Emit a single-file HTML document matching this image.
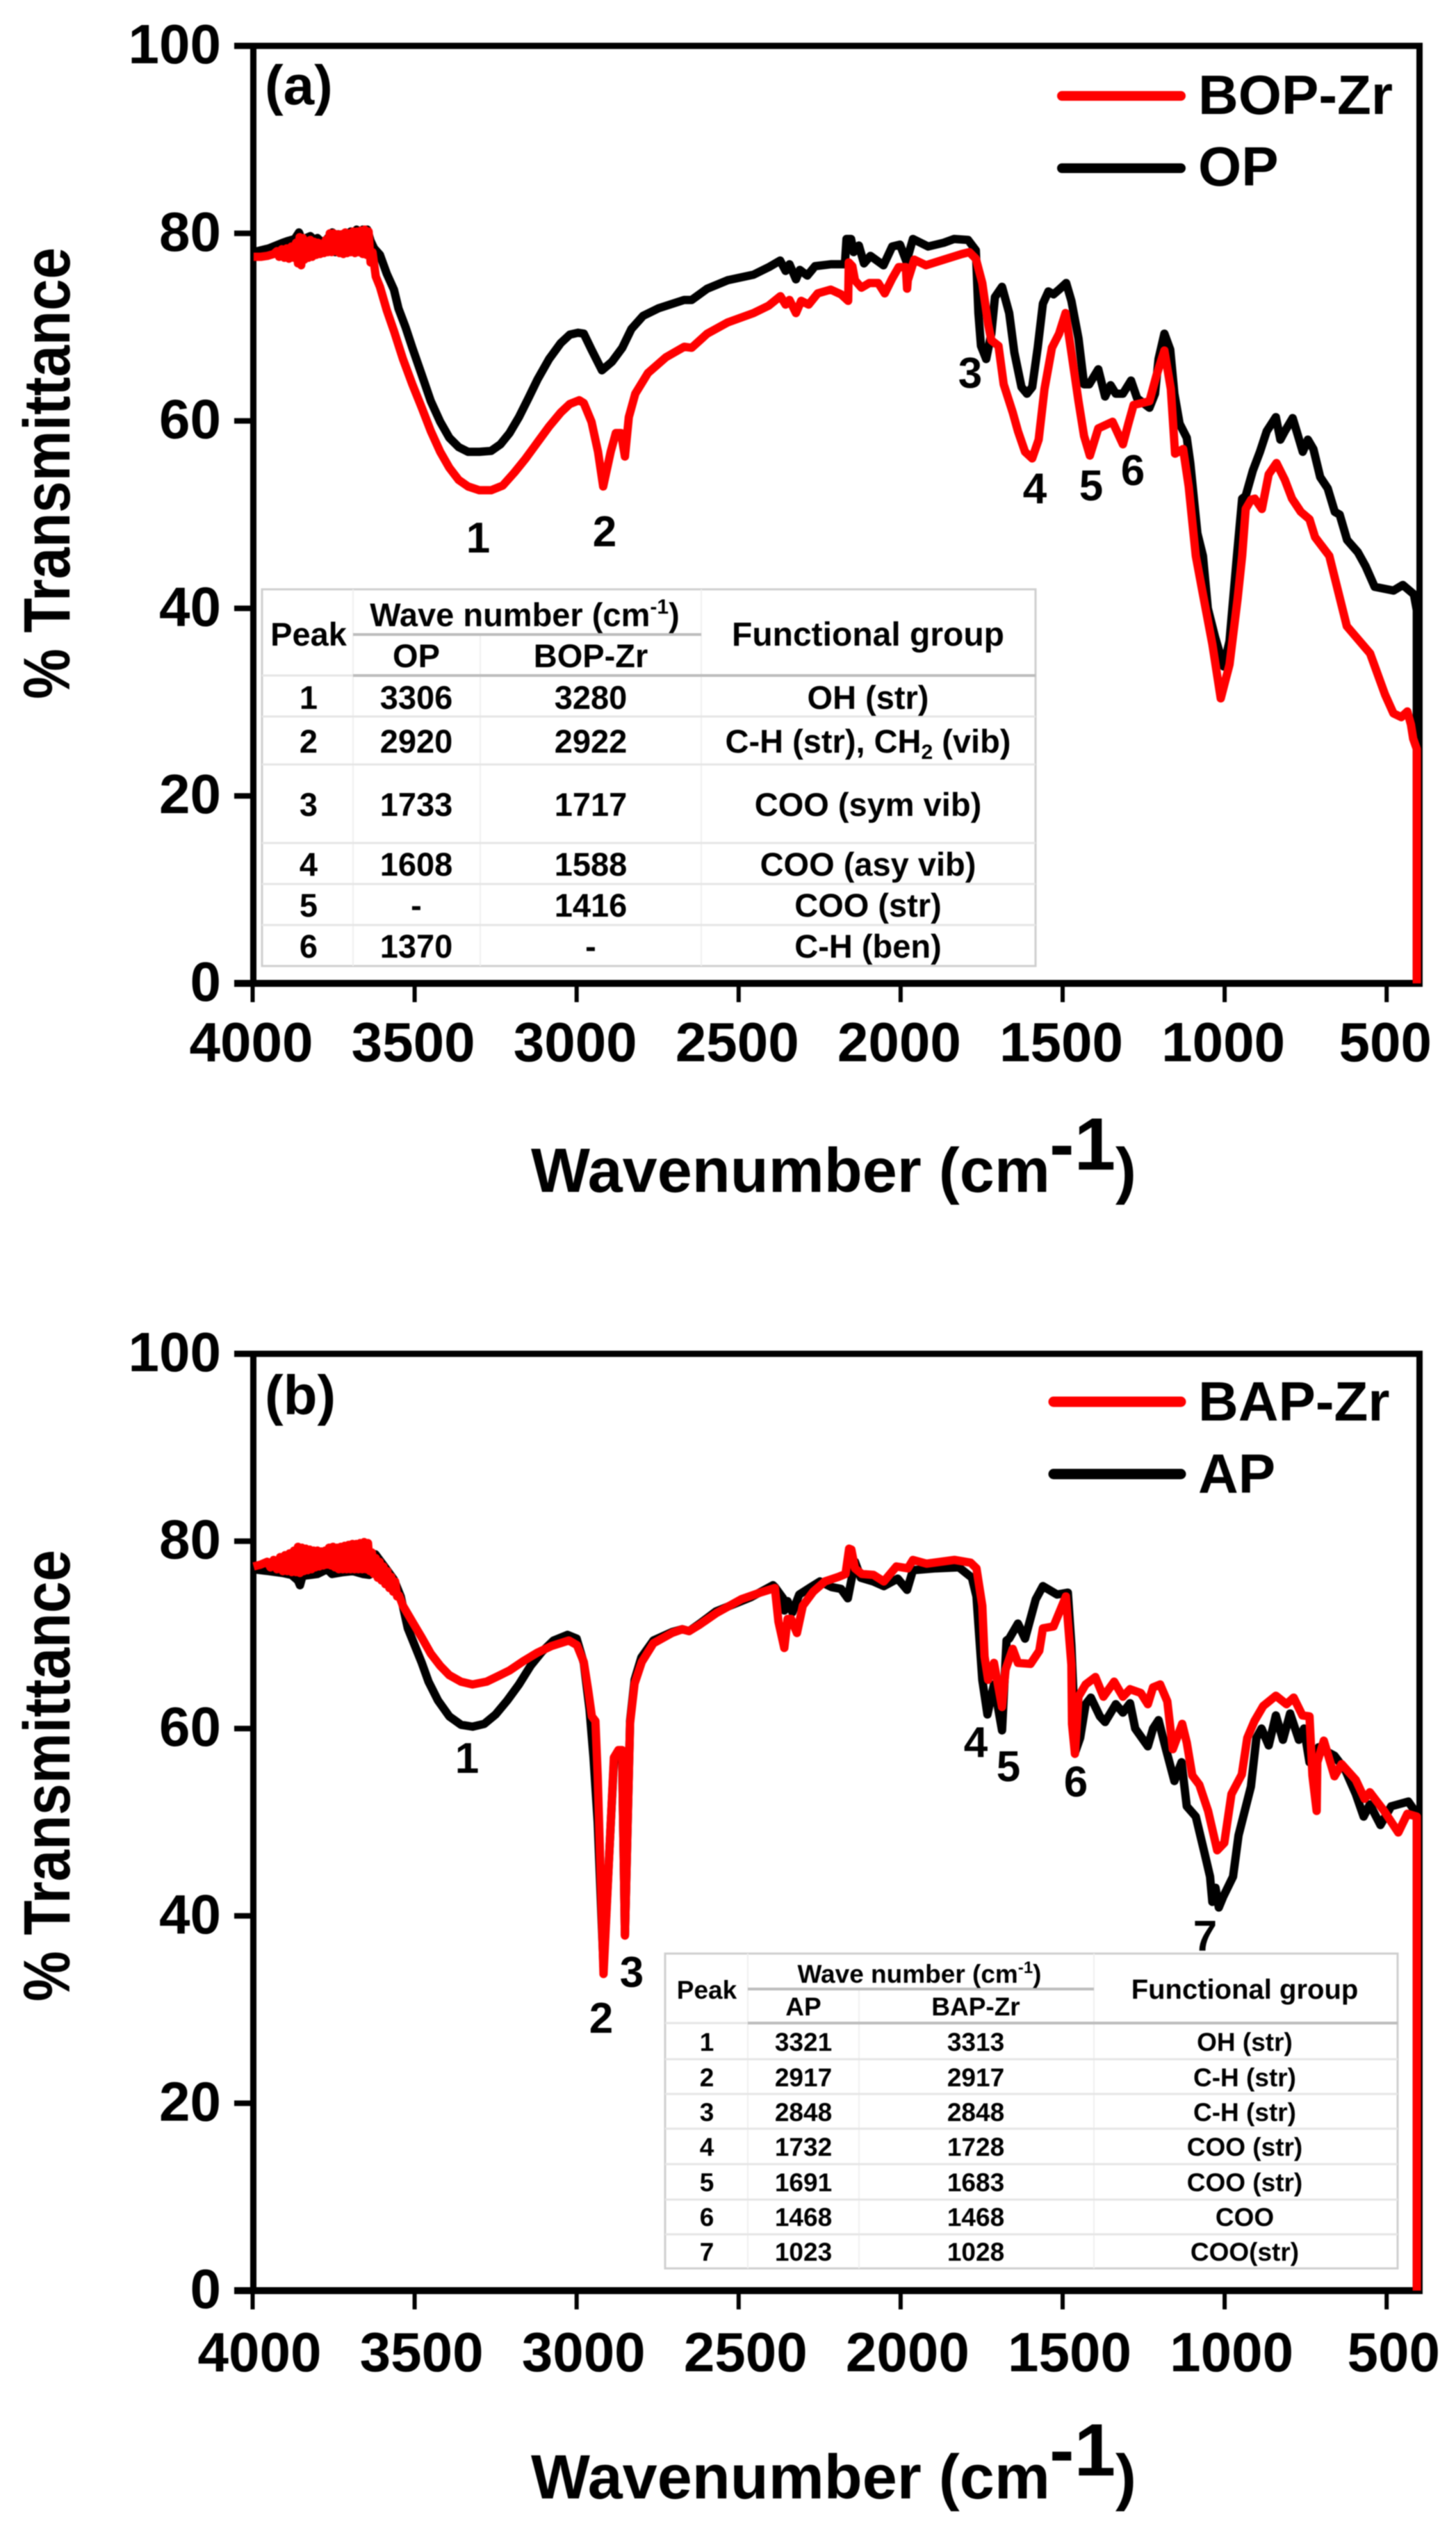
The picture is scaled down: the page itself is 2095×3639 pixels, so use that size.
<!DOCTYPE html>
<html lang="en">
<head>
<meta charset="utf-8">
<title>FTIR spectra</title>
<style>
html,body{margin:0;padding:0;background:#fff;}
body{width:2095px;height:3639px;overflow:hidden;}
svg{display:block;filter:blur(0.8px);}
text{font-family:"Liberation Sans",Arial,sans-serif;font-weight:bold;fill:#000;}
.tick{font-size:80px;}
.big{font-size:80px;}
.peak{font-size:62px;text-anchor:middle;}
.ta{font-size:47px;text-anchor:middle;}
.tb{font-size:37px;text-anchor:middle;}
.hline{stroke:#e6e6e6;stroke-width:3;}
.vline{stroke:#efefef;stroke-width:2;}
.hhead{stroke:#bdbdbd;stroke-width:4;}
.tframe{fill:#fff;stroke:#cfcfcf;stroke-width:3;}
</style>
</head>
<body>
<svg id="fig" xmlns="http://www.w3.org/2000/svg" width="2095" height="3639" viewBox="0 0 2095 3639">
  <rect width="2095" height="3639" fill="#fff"/>
  <g id="panel-a"></g>
  <g id="panel-b"></g>

  <!-- Panel a text -->
  <text class="big" x="381" y="150">(a)</text>
  <text x="100" y="1006" transform="rotate(-90 100 1006)" font-size="95" textLength="650" lengthAdjust="spacingAndGlyphs">% Transmittance</text>
  <text font-size="90"><tspan x="764" y="1715">Wavenumber (cm</tspan><tspan x="1510" y="1683" font-size="107">-1</tspan><tspan x="1605" y="1715">)</tspan></text>
  <line x1="1528" y1="138" x2="1699" y2="138" stroke="#f00" stroke-width="14" stroke-linecap="round"/>
  <text class="big" x="1724" y="164">BOP-Zr</text>
  <line x1="1528" y1="242" x2="1699" y2="242" stroke="#000" stroke-width="14" stroke-linecap="round"/>
  <text class="big" x="1724" y="267">OP</text>
  <text class="peak" x="688" y="795">1</text>
  <text class="peak" x="870" y="786">2</text>
  <text class="peak" x="1396" y="558">3</text>
  <text class="peak" x="1489" y="724">4</text>
  <text class="peak" x="1570" y="720">5</text>
  <text class="peak" x="1630" y="698">6</text>

  <!-- Panel a table -->
  <g>
    <rect class="tframe" x="377" y="848" width="1113" height="542"/>
    <line class="vline" x1="508" y1="848" x2="508" y2="1390"/><line class="vline" x1="691" y1="913" x2="691" y2="1390"/><line class="vline" x1="1009" y1="848" x2="1009" y2="1390"/>
    <line class="hhead" x1="508" y1="913" x2="1009" y2="913"/><line class="hhead" x1="508" y1="972" x2="1490" y2="972"/>
    <line class="hline" x1="377" y1="972" x2="508" y2="972"/><line class="hline" x1="377" y1="1031" x2="1490" y2="1031"/><line class="hline" x1="377" y1="1100" x2="1490" y2="1100"/><line class="hline" x1="377" y1="1213" x2="1490" y2="1213"/><line class="hline" x1="377" y1="1272" x2="1490" y2="1272"/><line class="hline" x1="377" y1="1331" x2="1490" y2="1331"/>
    <text class="ta" x="444" y="929">Peak</text>
    <text class="ta" x="755" y="901">Wave number (cm<tspan font-size="30" dy="-18">-1</tspan><tspan dy="18">)</tspan></text>
    <text class="ta" x="1249" y="929" style="font-size:48px">Functional group</text>
    <text class="ta" x="599" y="960">OP</text>
    <text class="ta" x="850" y="960">BOP-Zr</text>
    <g><text class="ta" x="444" y="1020">1</text><text class="ta" x="599" y="1020">3306</text><text class="ta" x="850" y="1020">3280</text><text class="ta" x="1249" y="1020">OH (str)</text></g>
    <g><text class="ta" x="444" y="1083">2</text><text class="ta" x="599" y="1083">2920</text><text class="ta" x="850" y="1083">2922</text><text class="ta" x="1249" y="1083">C-H (str), CH<tspan font-size="30" dy="9">2</tspan><tspan dy="-9"> (vib)</tspan></text></g>
    <g><text class="ta" x="444" y="1174">3</text><text class="ta" x="599" y="1174">1733</text><text class="ta" x="850" y="1174">1717</text><text class="ta" x="1249" y="1174">COO (sym vib)</text></g>
    <g><text class="ta" x="444" y="1260">4</text><text class="ta" x="599" y="1260">1608</text><text class="ta" x="850" y="1260">1588</text><text class="ta" x="1249" y="1260">COO (asy vib)</text></g>
    <g><text class="ta" x="444" y="1319">5</text><text class="ta" x="599" y="1319">-</text><text class="ta" x="850" y="1319">1416</text><text class="ta" x="1249" y="1319">COO (str)</text></g>
    <g><text class="ta" x="444" y="1378">6</text><text class="ta" x="599" y="1378">1370</text><text class="ta" x="850" y="1378">-</text><text class="ta" x="1249" y="1378">C-H (ben)</text></g>
  </g>

  <!-- Panel b text -->
  <text class="big" x="381" y="2035">(b)</text>
  <text x="100" y="2880" transform="rotate(-90 100 2880)" font-size="95" textLength="650" lengthAdjust="spacingAndGlyphs">% Transmittance</text>
  <text font-size="90"><tspan x="764" y="3595">Wavenumber (cm</tspan><tspan x="1510" y="3562" font-size="107">-1</tspan><tspan x="1605" y="3595">)</tspan></text>
  <line x1="1516" y1="2017" x2="1699" y2="2017" stroke="#f00" stroke-width="15" stroke-linecap="round"/>
  <text class="big" x="1724" y="2044">BAP-Zr</text>
  <line x1="1516" y1="2121" x2="1699" y2="2121" stroke="#000" stroke-width="15" stroke-linecap="round"/>
  <text class="big" x="1724" y="2148">AP</text>
  <text class="peak" x="672" y="2551">1</text>
  <text class="peak" x="865" y="2925">2</text>
  <text class="peak" x="909" y="2859">3</text>
  <text class="peak" x="1404" y="2528">4</text>
  <text class="peak" x="1451" y="2563">5</text>
  <text class="peak" x="1548" y="2585">6</text>
  <text class="peak" x="1734" y="2807">7</text>

  <!-- Panel b table -->
  <g>
    <rect class="tframe" x="957" y="2811" width="1054" height="453"/>
    <line class="vline" x1="1076" y1="2811" x2="1076" y2="3264"/><line class="vline" x1="1236" y1="2862" x2="1236" y2="3264"/><line class="vline" x1="1574" y1="2811" x2="1574" y2="3264"/>
    <line class="hhead" x1="1076" y1="2862" x2="1574" y2="2862"/><line class="hhead" x1="1076" y1="2911" x2="2011" y2="2911"/>
    <line class="hline" x1="957" y1="2911" x2="1076" y2="2911"/><line class="hline" x1="957" y1="2963" x2="2011" y2="2963"/><line class="hline" x1="957" y1="3013" x2="2011" y2="3013"/><line class="hline" x1="957" y1="3063" x2="2011" y2="3063"/><line class="hline" x1="957" y1="3114" x2="2011" y2="3114"/><line class="hline" x1="957" y1="3165" x2="2011" y2="3165"/><line class="hline" x1="957" y1="3215" x2="2011" y2="3215"/>
    <text class="tb" x="1017" y="2876">Peak</text>
    <text class="tb" x="1323" y="2853">Wave number (cm<tspan font-size="24" dy="-14">-1</tspan><tspan dy="14">)</tspan></text>
    <text class="tb" x="1791" y="2876" style="font-size:40px">Functional group</text>
    <text class="tb" x="1156" y="2900">AP</text>
    <text class="tb" x="1404" y="2900">BAP-Zr</text>
    <g><text class="tb" x="1017" y="2951">1</text><text class="tb" x="1156" y="2951">3321</text><text class="tb" x="1404" y="2951">3313</text><text class="tb" x="1791" y="2951">OH (str)</text></g>
    <g><text class="tb" x="1017" y="3002">2</text><text class="tb" x="1156" y="3002">2917</text><text class="tb" x="1404" y="3002">2917</text><text class="tb" x="1791" y="3002">C-H (str)</text></g>
    <g><text class="tb" x="1017" y="3052">3</text><text class="tb" x="1156" y="3052">2848</text><text class="tb" x="1404" y="3052">2848</text><text class="tb" x="1791" y="3052">C-H (str)</text></g>
    <g><text class="tb" x="1017" y="3102">4</text><text class="tb" x="1156" y="3102">1732</text><text class="tb" x="1404" y="3102">1728</text><text class="tb" x="1791" y="3102">COO (str)</text></g>
    <g><text class="tb" x="1017" y="3153">5</text><text class="tb" x="1156" y="3153">1691</text><text class="tb" x="1404" y="3153">1683</text><text class="tb" x="1791" y="3153">COO (str)</text></g>
    <g><text class="tb" x="1017" y="3203">6</text><text class="tb" x="1156" y="3203">1468</text><text class="tb" x="1404" y="3203">1468</text><text class="tb" x="1791" y="3203">COO</text></g>
    <g><text class="tb" x="1017" y="3253">7</text><text class="tb" x="1156" y="3253">1023</text><text class="tb" x="1404" y="3253">1028</text><text class="tb" x="1791" y="3253">COO(str)</text></g>
  </g>
</svg>

<script>
const xTickValues = [4000, 3500, 3000, 2500, 2000, 1500, 1000, 500];
const yTickValues = [0, 20, 40, 60, 80, 100];

const opWavenumber = [
3997,3950,3907,3890,3870,3857,3848,3835,3822,3810,
3800,3785,3770,3754,3745,3735,3725,3715,3707,3697,
3688,3679,3670,3660,3650,3646,3636,3625,3607,3586,
3564,3550,3528,3507,3478,3450,3421,3393,3364,3335,
3300,3264,3235,3207,3178,3149,3121,3085,3049,3021,
2996,2978,2954,2922,2891,2859,2831,2795,2748,2668,
2645,2597,2534,2454,2407,2372,2355,2343,2323,2311,
2288,2264,2216,2172,2167,2153,2145,2129,2113,2093,
2053,2026,2002,1982,1962,1915,1867,1835,1792,1768,
1760,1752,1736,1720,1709,1687,1665,1649,1627,1610,
1594,1577,1561,1544,1528,1511,1489,1473,1451,1434,
1418,1390,1369,1352,1336,1314,1289,1270,1232,1215,
1204,1186,1168,1155,1139,1117,1106,1084,1067,1052,
1030,1003,985,962,946,935,913,891,870,842,
828,814,790,776,759,743,726,705,682,660,
645,622,589,565,537,479,450,416,407,407];
const opTransmittance = [
78,78.4,79,79.2,79.4,80.1,79.3,79.5,79.7,79.3,
79.5,79,79.4,80.1,78,79.9,77.9,80,78.2,80.2,
78.1,80.4,78,80.4,77.9,80.4,79.2,78.4,77.7,75.7,
74,72,70,67.8,64.9,62.1,59.9,58.2,57.2,56.7,
56.7,56.8,57.5,58.7,60.4,62.4,64.4,66.6,68.3,69.2,
69.4,69.3,67.6,65.4,66.3,67.8,69.8,71.2,72,72.9,
72.9,74.1,75,75.6,76.4,77.1,76,76.7,75.1,76.1,
75.5,76.5,76.7,76.7,79.4,79.4,78,78.7,76.8,77.6,
76.6,78.6,78.8,77,79.4,78.6,79,79.4,79.3,78.2,
71.5,68,66.6,69.3,73.2,74.3,71.5,67.3,63.6,62.9,
63.6,67.8,72.5,73.8,73.5,74,74.7,72.8,68.8,63.9,
63.9,65.5,62.6,63.8,62.9,62.9,64.3,62.4,61.4,62.9,
66.6,69.3,67.6,62.9,59.7,58.2,55.5,48,45.6,40,
37,33.8,36.5,45.6,51.7,52,54.7,56.7,58.9,60.4,
58,58.9,60.3,58.7,56.7,58,57,54,52.8,50.3,
50,47.3,46,44.5,42.3,41.9,42.5,41.5,39.8,0];

const bopWavenumber = [
3997,3975,3955,3935,3925,3918,3910,3902,3895,3888,
3880,3873,3866,3860,3855,3850,3845,3840,3834,3828,
3822,3816,3810,3804,3798,3792,3786,3780,3774,3768,
3762,3756,3750,3744,3738,3732,3726,3720,3714,3708,
3702,3696,3690,3684,3678,3672,3666,3660,3654,3648,
3642,3636,3630,3620,3607,3586,3564,3536,3507,3478,
3450,3421,3393,3364,3335,3300,3264,3228,3192,3157,
3121,3085,3049,3021,2992,2978,2954,2934,2918,2895,
2879,2863,2851,2839,2819,2780,2724,2668,2645,2597,
2534,2454,2407,2371,2355,2343,2323,2307,2284,2256,
2216,2184,2162,2160,2149,2141,2121,2097,2069,2049,
2026,2006,1984,1980,1978,1958,1922,1867,1811,1788,
1768,1748,1730,1720,1698,1682,1654,1638,1616,1594,
1574,1556,1533,1511,1491,1473,1451,1434,1416,1390,
1346,1314,1297,1281,1232,1210,1186,1166,1153,1128,
1111,1089,1067,1038,1012,985,960,946,935,918,
907,885,864,840,814,792,765,738,721,677,
623,551,505,479,455,436,425,418,407,407];
const bopTransmittance = [
77.5,77.5,77.6,77.8,78.1,77.5,78.3,77.4,78.4,77.3,
78.6,77.4,79,76.8,79.6,76.6,79.5,77.2,79,77.4,
79.3,77.5,79.1,77.7,79,77.8,78.9,77.9,79.3,78,
80,78,80,78.1,79.9,77.9,79.9,77.8,80.1,77.9,
80,78,80.2,77.9,80.2,78,80.3,77.8,80.4,77.7,
80.2,76.9,78,75.4,74.3,71.8,69.6,66.6,63.9,61.4,
58.9,56.7,55,53.7,53,52.6,52.6,53.1,54.5,56,
57.7,59.4,60.9,61.8,62.2,61.9,59.9,56.7,53,56.7,
58.7,58.7,56.2,60.4,62.9,65.1,66.8,67.9,67.8,69.3,
70.5,71.5,72.3,73.3,72.4,72.9,71.5,72.8,72.4,73.6,
74,73.5,72.8,76.9,76.5,75,74.2,74.7,74.7,73.6,
75.2,76.4,76.4,74.1,75,77.2,76.6,77.2,77.8,78,
77.3,74.7,70.3,68.6,68,63.9,60.9,58.9,56.7,56,
58,63.4,67.8,69.3,71.5,67.3,62.1,58.4,56.3,59.2,
59.9,57.5,59.7,61.7,62.1,64.9,67.5,63.4,56.5,57,
53,45.6,41.5,36.2,30.4,34,41,45.6,50.6,51.6,
51.7,50.6,54.3,55.5,53.7,51.7,50.3,49.5,47.6,45.6,
38.1,35.2,30.8,28.8,28.4,29,27.6,26.1,25,0];

const apWavenumber = [
3997,3950,3907,3880,3860,3854,3846,3820,3800,3770,
3755,3720,3690,3660,3640,3625,3621,3589,3564,3543,
3521,3500,3478,3457,3428,3393,3357,3321,3285,3250,
3214,3178,3142,3107,3071,3028,3000,2978,2960,2948,
2935,2917,2885,2871,2860,2851,2835,2821,2800,2763,
2706,2674,2653,2620,2570,2463,2394,2388,2363,2359,
2349,2334,2313,2277,2249,2213,2184,2163,2141,2123,
2084,2052,2009,1980,1962,1891,1820,1780,1766,1748,
1732,1712,1687,1673,1665,1638,1616,1583,1561,1517,
1484,1473,1464,1462,1446,1429,1413,1385,1369,1336,
1314,1292,1276,1237,1221,1204,1182,1155,1133,1117,
1089,1062,1045,1038,1028,1018,1005,974,957,919,
902,886,864,842,820,798,771,755,738,710,
661,628,595,571,552,519,486,433,407,407];
const apTransmittance = [
77,76.8,76.6,76.4,75.8,75.3,76.3,76.4,76.5,77,
76.5,76.7,76.8,76.5,76.4,78,78.6,77.1,75.9,74.1,
70.7,68.9,67,65,63,61.3,60.4,60.2,60.5,61.5,
63,64.7,66.7,68.2,69.4,70,69.6,67,62,57,
50,34.5,56.5,57.5,57.5,38,60.8,65.2,67.6,69.4,
70.3,70.6,70.4,71.2,72.5,74,75.3,75.1,73.9,72.6,
73.6,72.4,74.3,75.1,75.7,75.1,74.9,73.9,77.8,76.1,
75.7,75.2,76,74.8,76.9,77.1,77.2,76.1,74.1,65.2,
61.5,64.7,59.8,69.4,69.6,71.2,69.6,73.8,75.2,74.3,
74.5,68.9,61.6,57.4,59,62.6,63.3,61.3,60.7,62.6,
61.7,62.7,60,58.1,60,60.9,57.9,54.4,56.4,51.7,
50.6,46.7,44.2,41.5,43,40.9,42,44.2,48.6,53.8,
59,60,58.2,61.4,58.8,61.6,58.8,60,56.4,58,
57.1,55.6,53,50.6,51.9,49.7,51.7,52.2,50.9,0];

const bapWavenumber = [
3997,3975,3955,3945,3935,3925,3915,3907,3900,3893,
3886,3879,3872,3866,3860,3854,3848,3842,3836,3830,
3824,3818,3812,3806,3800,3794,3788,3782,3776,3770,
3764,3758,3752,3746,3740,3734,3728,3722,3716,3710,
3704,3698,3692,3686,3680,3674,3668,3662,3656,3650,
3644,3638,3632,3626,3620,3614,3608,3602,3596,3590,
3584,3578,3572,3566,3560,3554,3548,3536,3507,3478,
3450,3421,3393,3357,3321,3278,3242,3207,3164,3121,
3078,3024,2999,2978,2964,2953,2942,2935,2917,2885,
2871,2860,2851,2835,2821,2799,2763,2706,2674,2653,
2620,2570,2492,2434,2388,2377,2359,2349,2338,2320,
2302,2270,2234,2191,2170,2159,2152,2141,2120,2084,
2052,2013,1978,1962,1920,1834,1784,1766,1748,1741,
1730,1712,1687,1676,1654,1638,1599,1572,1561,1528,
1490,1473,1471,1462,1451,1429,1399,1374,1341,1314,
1292,1259,1237,1221,1199,1177,1160,1131,1117,1100,
1078,1051,1023,1001,979,947,930,908,881,842,
809,787,760,738,729,716,714,694,661,639,
595,568,552,508,464,436,407,407];
const bapTransmittance = [
77.3,77.5,77.8,77.2,78,77,78.3,76.8,78.5,76.8,
78.7,76.7,79,76.7,79.4,76.6,79.3,76.8,79.2,76.9,
79.1,77,79,77.2,79,77.3,78.9,77.4,79,77.5,
79.3,77.4,79.4,77.2,79.3,77,79.4,77,79.5,77,
79.6,77,79.7,77,79.7,77,79.8,77,79.9,77,
79.8,76.8,78.8,76.5,78.2,76.1,77.8,75.8,77.3,75.4,
76.8,75,76.2,74.6,75.7,74.1,74.2,73.1,71.4,69.7,
68,66.7,65.7,65,64.7,65,65.6,66.2,67.2,68.1,
68.8,69.4,68.9,67.1,64,61.3,60.8,54.9,33.8,56.9,
57.7,57.7,37.9,60.6,64.8,67.1,69.1,70.2,70.6,70.4,
71.1,72.3,73.8,74.5,75,71.4,68.6,71.7,71.7,70.2,
73.1,74.6,75.7,76.2,76.5,79.2,79.1,77.1,76.5,76.4,
75.7,77.3,77.1,78,77.6,78,77.7,77.1,73.1,67.7,
65.2,67,62.3,66.3,68.5,67,66.9,68.3,70.7,70.9,
74.1,66.8,60.5,57.3,63.4,64.7,65.5,63.4,65,63.4,
64.2,63.8,62.6,64.4,64.7,62.9,57.8,60.5,58.5,55,
54,51.2,47,47.8,53,55.1,59,60.8,62.4,63.5,
62.6,63.3,61.4,61.3,55,51.2,56.4,58.7,54.9,56.2,
54.5,52.5,53.2,51.2,48.9,50.9,50.6,0];

const SVG_NS = 'http://www.w3.org/2000/svg';

function makeXScale() {
  return function (wavenumber) { return 363.5 + (4000 - wavenumber) * 0.4662; };
}
function makeYScale(y0, y100) {
  return function (value) { return y0 + (y100 - y0) * value / 100; };
}
function create(parent, tag) {
  const el = document.createElementNS(SVG_NS, tag);
  parent.appendChild(el);
  return el;
}
function setLine(el, x1, y1, x2, y2, width) {
  el.setAttribute('x1', x1);
  el.setAttribute('y1', y1);
  el.setAttribute('x2', x2);
  el.setAttribute('y2', y2);
  el.setAttribute('stroke', '#000');
  el.setAttribute('stroke-width', width);
}
function drawSeries(parent, xs, ys, wavenumbers, values, color) {
  const path = create(parent, 'path');
  const d = wavenumbers.map(function (w, i) {
    return (i ? 'L' : 'M') + xs(w).toFixed(1) + ' ' + ys(values[i]).toFixed(1);
  }).join(' ');
  path.setAttribute('d', d);
  path.setAttribute('fill', 'none');
  path.setAttribute('stroke', color);
  path.setAttribute('stroke-width', '12');
  path.setAttribute('stroke-linejoin', 'round');
  path.setAttribute('stroke-linecap', 'butt');
  return path;
}
function drawAxes(parent, xs, ys, xLabelShift, xLabelBaseline) {
  const right = 2042.5, left = 364.5, y0 = ys(0), y100 = ys(100);
  xTickValues.forEach(function (v) {
    const tick = create(parent, 'line');
    setLine(tick, xs(v), y0, xs(v), y0 + 27, 6);
    
    
    const label = create(parent, 'text');
    label.setAttribute('class', 'tick');
    label.setAttribute('x', xs(v) + xLabelShift);
    label.setAttribute('y', xLabelBaseline);
    label.setAttribute('text-anchor', 'middle');
    label.textContent = v;
    
    
  });
  yTickValues.forEach(function (v) {
    const tick = create(parent, 'line');
    setLine(tick, 337, ys(v), left, ys(v), 8);
    
    
    const label = create(parent, 'text');
    label.setAttribute('class', 'tick');
    label.setAttribute('x', 318);
    label.setAttribute('y', ys(v) + 25);
    label.setAttribute('text-anchor', 'end');
    label.textContent = v;
    
    
  });
  const topAxis = create(parent, 'line');
  setLine(topAxis, 337, y100, right + 4.5, y100, 9);
  
  
  const bottomAxis = create(parent, 'line');
  setLine(bottomAxis, 337, y0, right + 4.5, y0, 10);
  
  
  const leftAxis = create(parent, 'line');
  setLine(leftAxis, left, y100, left, y0, 9);
  
  
  const rightAxis = create(parent, 'line');
  setLine(rightAxis, right, y100, right, y0, 9);
  
  
}

const xScale = makeXScale();
const yScaleA = makeYScale(1415, 66);
const yScaleB = makeYScale(3296, 1948);
const panelA = document.getElementById('panel-a');
const panelB = document.getElementById('panel-b');

drawAxes(panelA, xScale, yScaleA, -2, 1527);
const opLine = drawSeries(panelA, xScale, yScaleA, opWavenumber, opTransmittance, '#000');


const bopLine = drawSeries(panelA, xScale, yScaleA, bopWavenumber, bopTransmittance, '#f00');



drawAxes(panelB, xScale, yScaleB, 10, 3412);
const apLine = drawSeries(panelB, xScale, yScaleB, apWavenumber, apTransmittance, '#000');


const bapLine = drawSeries(panelB, xScale, yScaleB, bapWavenumber, bapTransmittance, '#f00');


</script>
</body>
</html>
